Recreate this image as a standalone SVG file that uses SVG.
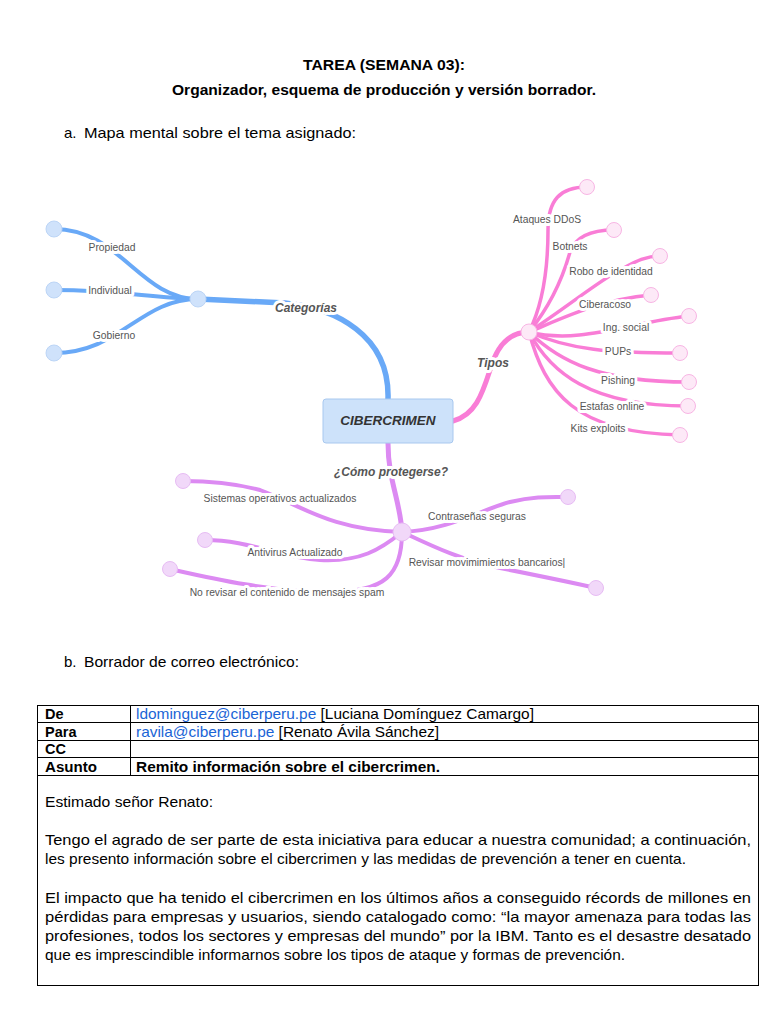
<svg xmlns="http://www.w3.org/2000/svg" width="768" height="1024" viewBox="0 0 768 1024">
<style>
.h{font-family:"Liberation Sans",Arial,sans-serif;font-size:15px;fill:#000}
.b{font-weight:bold}
.lbl{font-family:"Liberation Sans",Arial,sans-serif;font-size:10.3px;fill:#555;stroke:#fff;stroke-width:6;paint-order:stroke;stroke-linejoin:round}
.main{font-family:"Liberation Sans",Arial,sans-serif;font-size:12px;font-weight:bold;font-style:italic;fill:#555;stroke:#fff;stroke-width:6;paint-order:stroke;stroke-linejoin:round}
.blue{fill:none;stroke:#69a9f7;stroke-linecap:round}
.pink{fill:none;stroke:#f97dd6;stroke-linecap:round}
.vio{fill:none;stroke:#dc8af2;stroke-linecap:round}
.nb{fill:#cfe2fb;stroke:#bcd5f6;stroke-width:1}
.np{fill:#fde9f7;stroke:#f8b5e4;stroke-width:1}
.nv{fill:#f1d8f9;stroke:#e7bcf4;stroke-width:1}
.t{font-family:"Liberation Sans",Arial,sans-serif;font-size:14.5px;fill:#000}
.tb{font-weight:bold}
.lnk{fill:#1a64d6}
.grid{stroke:#000;stroke-width:1;fill:none}
</style>
<rect width="768" height="1024" fill="#fff"/>

<text class="h b" x="384" y="70" text-anchor="middle" textLength="162" lengthAdjust="spacingAndGlyphs">TAREA (SEMANA 03):</text>
<text class="h b" x="384" y="95" text-anchor="middle" textLength="424" lengthAdjust="spacingAndGlyphs">Organizador, esquema de producción y versión borrador.</text>
<text class="h" x="64" y="138">a.</text>
<text class="h" x="84" y="138" textLength="272" lengthAdjust="spacingAndGlyphs">Mapa mental sobre el tema asignado:</text>

<g id="connectors">
  <path class="blue" stroke-width="5.5" d="M388,399 C390,335 335,308 285,303 L198,299"/>
  <path class="blue" stroke-width="4" d="M198,299 C140,299 120,229 54,229"/>
  <path class="blue" stroke-width="4" d="M198,299 C150,298 120,290 54,290"/>
  <path class="blue" stroke-width="4" d="M198,299 C140,299 120,353 54,353"/>

  <path class="pink" stroke-width="5" d="M453,421 C475,415 482,395 490,370 C497,345 510,332 529,332"/>
  <path class="pink" stroke-width="3.5" d="M529,332 C545,300 548,260 548,230 C548,200 560,187 587,187"/>
  <path class="pink" stroke-width="3.5" d="M529,332 C555,300 565,270 570,252 C575,238 590,230 614,230"/>
  <path class="pink" stroke-width="3.5" d="M529,332 C570,305 600,280 620,270 C635,262 645,256 660,256"/>
  <path class="pink" stroke-width="3.5" d="M529,332 C570,315 600,300 651,295"/>
  <path class="pink" stroke-width="3.5" d="M529,332 C580,345 630,322 689,316"/>
  <path class="pink" stroke-width="3.5" d="M529,332 C570,350 610,353 680,353"/>
  <path class="pink" stroke-width="3.5" d="M529,332 C560,362 600,382 689,382"/>
  <path class="pink" stroke-width="3.5" d="M529,332 C550,372 590,406 688,406"/>
  <path class="pink" stroke-width="3.5" d="M529,332 C545,392 575,433 680,435"/>

  <path class="vio" stroke-width="5" d="M388,443 C388,480 400,500 402,532"/>
  <path class="vio" stroke-width="4" d="M402,532 C330,530 300,505 260,490 C230,482 205,481 183,481"/>
  <path class="vio" stroke-width="4" d="M402,532 C380,550 360,562 320,560 C280,558 250,540 205,540"/>
  <path class="vio" stroke-width="4" d="M402,532 C402,575 385,592 330,592 C270,592 210,578 170,569"/>
  <path class="vio" stroke-width="4" d="M402,532 C450,530 480,510 510,502 C535,496 550,497 568,497"/>
  <path class="vio" stroke-width="4" d="M402,532 C430,545 460,560 500,568 C540,576 570,582 596,588"/>
</g>

<g id="center">
  <rect x="323" y="399" width="130" height="44" rx="3" fill="#cde2fa" stroke="#a8c8ef"/>
  <text x="388" y="425" text-anchor="middle" font-family="Liberation Sans, Arial, sans-serif" font-size="13.5" font-weight="bold" font-style="italic" fill="#333">CIBERCRIMEN</text>
</g>

<g id="categorias">
  <text class="main" x="306" y="312" text-anchor="middle">Categorías</text>
  <circle class="nb" cx="198" cy="299" r="8"/>
</g>
<g id="propiedad"><circle class="nb" cx="54" cy="229" r="8"/><text class="lbl" x="112" y="251" text-anchor="middle">Propiedad</text></g>
<g id="individual"><circle class="nb" cx="54" cy="290" r="8"/><text class="lbl" x="110" y="294" text-anchor="middle">Individual</text></g>
<g id="gobierno"><circle class="nb" cx="54" cy="353" r="8"/><text class="lbl" x="114" y="339" text-anchor="middle">Gobierno</text></g>

<g id="tipos">
  <text class="main" x="493" y="367" text-anchor="middle">Tipos</text>
  <circle class="np" cx="529" cy="332" r="8"/>
</g>
<g id="ddos"><circle class="np" cx="587" cy="187" r="7.5"/><text class="lbl" x="547" y="223" text-anchor="middle">Ataques DDoS</text></g>
<g id="botnets"><circle class="np" cx="614" cy="230" r="7.5"/><text class="lbl" x="570" y="250" text-anchor="middle">Botnets</text></g>
<g id="robo"><circle class="np" cx="660" cy="256" r="7.5"/><text class="lbl" x="611" y="275" text-anchor="middle">Robo de identidad</text></g>
<g id="ciberacoso"><circle class="np" cx="651" cy="295" r="7.5"/><text class="lbl" x="605" y="308" text-anchor="middle">Ciberacoso</text></g>
<g id="ingsocial"><circle class="np" cx="689" cy="316" r="7.5"/><text class="lbl" x="626" y="331" text-anchor="middle">Ing. social</text></g>
<g id="pups"><circle class="np" cx="680" cy="353" r="7.5"/><text class="lbl" x="618" y="355" text-anchor="middle">PUPs</text></g>
<g id="pishing"><circle class="np" cx="689" cy="382" r="7.5"/><text class="lbl" x="618" y="384" text-anchor="middle">Pishing</text></g>
<g id="estafas"><circle class="np" cx="688" cy="406" r="7.5"/><text class="lbl" x="612" y="410" text-anchor="middle">Estafas online</text></g>
<g id="kits"><circle class="np" cx="680" cy="435" r="7.5"/><text class="lbl" x="598" y="432" text-anchor="middle">Kits exploits</text></g>

<g id="proteger">
  <text class="main" x="391" y="476" text-anchor="middle">¿Cómo protegerse?</text>
  <circle class="nv" cx="402" cy="532" r="9"/>
</g>
<g id="sistemas"><circle class="nv" cx="183" cy="481" r="7.5"/><text class="lbl" x="280" y="502" text-anchor="middle">Sistemas operativos actualizados</text></g>
<g id="antivirus"><circle class="nv" cx="205" cy="540" r="7.5"/><text class="lbl" x="295" y="556" text-anchor="middle">Antivirus Actualizado</text></g>
<g id="spam"><circle class="nv" cx="170" cy="569" r="7.5"/><text class="lbl" x="287" y="596" text-anchor="middle">No revisar el contenido de mensajes spam</text></g>
<g id="contrasenas"><circle class="nv" cx="568" cy="497" r="7.5"/><text class="lbl" x="477" y="520" text-anchor="middle">Contraseñas seguras</text></g>
<g id="revisar"><circle class="nv" cx="596" cy="588" r="7.5"/><text class="lbl" x="487" y="566" text-anchor="middle">Revisar movimimientos bancarios|</text></g>

<text class="h" x="64" y="667">b.</text>
<text class="h" x="84" y="667" textLength="215" lengthAdjust="spacingAndGlyphs">Borrador de correo electrónico:</text>

<g id="email">
  <rect class="grid" x="37.5" y="705.5" width="721" height="280"/>
  <line class="grid" x1="37.5" y1="722.5" x2="758.5" y2="722.5"/>
  <line class="grid" x1="37.5" y1="740.5" x2="758.5" y2="740.5"/>
  <line class="grid" x1="37.5" y1="757.5" x2="758.5" y2="757.5"/>
  <line class="grid" x1="37.5" y1="775.5" x2="758.5" y2="775.5"/>
  <line class="grid" x1="130.5" y1="705.5" x2="130.5" y2="775.5"/>
  <text class="t tb" x="45" y="719">De</text>
  <text class="t tb" x="45" y="737">Para</text>
  <text class="t tb" x="45" y="754">CC</text>
  <text class="t tb" x="45" y="772" textLength="52" lengthAdjust="spacingAndGlyphs">Asunto</text>
  <text class="t" x="136" y="719" textLength="398" lengthAdjust="spacingAndGlyphs"><tspan class="lnk">ldominguez@ciberperu.pe</tspan> [Luciana Domínguez Camargo]</text>
  <text class="t" x="136" y="737" textLength="303" lengthAdjust="spacingAndGlyphs"><tspan class="lnk">ravila@ciberperu.pe</tspan> [Renato Ávila Sánchez]</text>
  <text class="t tb" x="136" y="772" textLength="304" lengthAdjust="spacingAndGlyphs">Remito información sobre el cibercrimen.</text>
  <text class="t" x="45" y="807" textLength="168" lengthAdjust="spacingAndGlyphs">Estimado señor Renato:</text>
  <text class="t" x="45" y="845" textLength="706" lengthAdjust="spacingAndGlyphs">Tengo el agrado de ser parte de esta iniciativa para educar a nuestra comunidad; a continuación,</text>
  <text class="t" x="45" y="864" textLength="641" lengthAdjust="spacingAndGlyphs">les presento información sobre el cibercrimen y las medidas de prevención a tener en cuenta.</text>
  <text class="t" x="45" y="903" textLength="706" lengthAdjust="spacingAndGlyphs">El impacto que ha tenido el cibercrimen en los últimos años a conseguido récords de millones en</text>
  <text class="t" x="45" y="922" textLength="706" lengthAdjust="spacingAndGlyphs">pérdidas para empresas y usuarios, siendo catalogado como: “la mayor amenaza para todas las</text>
  <text class="t" x="45" y="941" textLength="706" lengthAdjust="spacingAndGlyphs">profesiones, todos los sectores y empresas del mundo” por la IBM. Tanto es el desastre desatado</text>
  <text class="t" x="45" y="960" textLength="580" lengthAdjust="spacingAndGlyphs">que es imprescindible informarnos sobre los tipos de ataque y formas de prevención.</text>
</g>
</svg>
